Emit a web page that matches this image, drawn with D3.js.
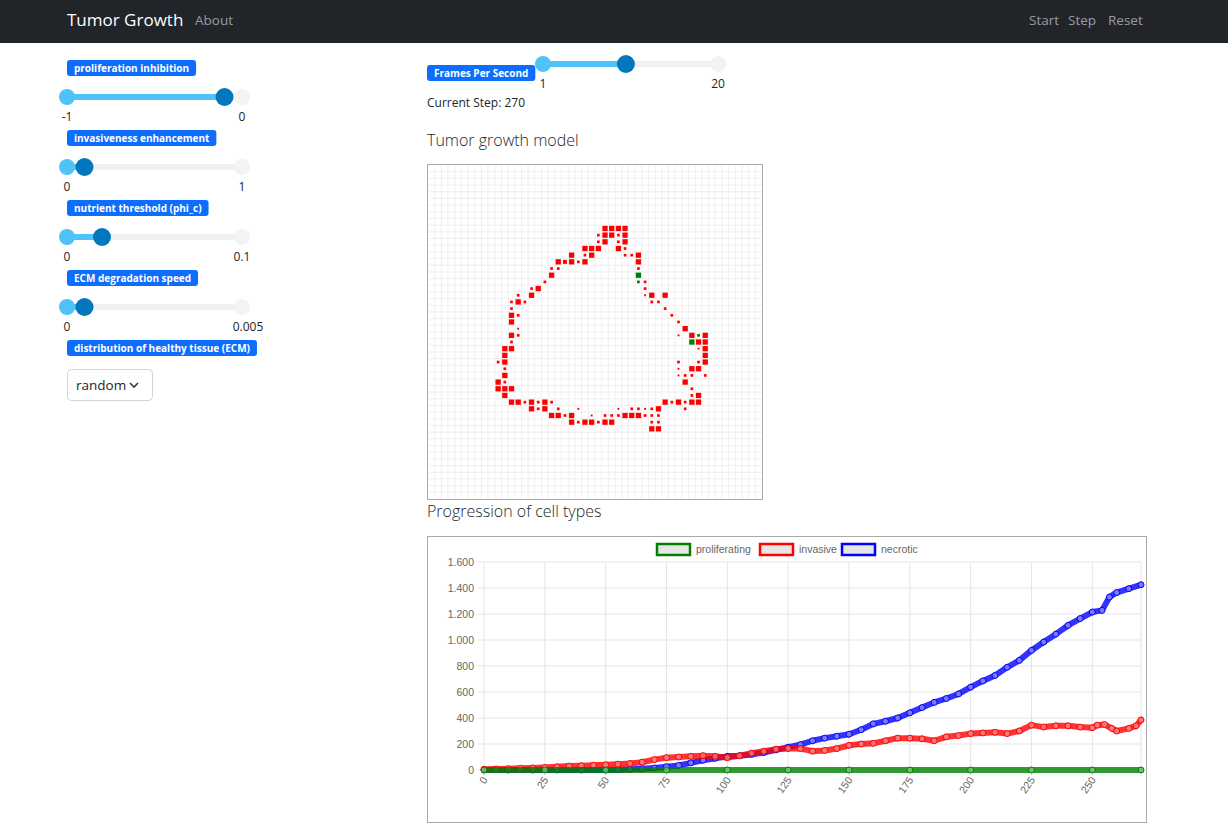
<!DOCTYPE html>
<html><head><meta charset="utf-8">
<script src="https://cdn.jsdelivr.net/npm/d3@7"></script>
<style>body{margin:0;background:#fff;font-family:"Open Sans","Noto Sans",sans-serif}</style>
</head><body><svg id="s" width="1228" height="826"></svg>
<script>
// ---------- data ----------
const navLeft = ["Tumor Growth", "About"];
const navRight = ["Start", "Step", "Reset"];
const sliderLabels = ["proliferation inhibition", "invasiveness enhancement", "nutrient threshold (phi_c)", "ECM degradation speed"];
const sliderMin = [-1, 0, 0, 0];
const sliderMax = [0, 1, 0.1, 0.005];
const sliderVal = [-0.1, 0.1, 0.02, 0.0005];
const fpsRange = [1, 20], fpsVal = 10;
const currentStep = 270;
// tumor cells: [col,row,sizeClass] sizeClass 3=large 2=medium 1=small 0=tiny
const invasiveCells = [
[26,9,3],[27,9,3],[28,9,3],[29,9,3],
[25,10,1],[26,10,3],[27,10,3],[28,10,1],[29,10,3],
[25,11,1],[26,11,3],[28,11,1],[29,11,3],
[23,12,3],[24,12,3],[25,12,3],[28,12,3],[29,12,1],
[21,13,3],[23,13,1],[24,13,3],[29,13,1],[30,13,1],[31,13,3],
[19,14,3],[20,14,2],[21,14,3],[22,14,1],[23,14,3],[31,14,3],
[18,15,1],[19,15,1],[31,15,1],
[18,16,3],
[17,17,1],[32,17,1],
[15,18,1],[16,18,3],[32,18,1],
[13,19,1],[15,19,3],[32,19,0],[33,19,3],[35,19,3],
[12,20,1],[13,20,3],[14,20,1],[33,20,1],[34,20,1],
[12,21,1],[35,21,1],
[12,22,3],[13,22,1],[36,22,1],
[12,23,3],[37,23,1],
[13,24,0],[38,24,3],
[12,25,3],[13,25,1],[37,25,0],[39,25,3],[41,25,3],
[12,26,1],[40,26,3],[41,26,3],
[11,27,3],[12,27,3],[40,27,0],[41,27,3],
[11,28,3],[41,28,3],
[10,29,1],[11,29,3],[37,29,1],[40,29,1],[41,29,3],
[11,30,1],[37,30,0],[39,30,3],[40,30,3],
[11,31,3],[37,31,0],[38,31,1],[39,31,1],[41,31,1],
[10,32,3],[11,32,1],[38,32,3],
[10,33,3],[11,33,3],[12,33,3],[39,33,1],
[11,34,3],[39,34,1],[40,34,3],
[12,35,3],[13,35,3],[14,35,1],[15,35,3],[16,35,1],[17,35,3],[18,35,1],[35,35,3],[36,35,1],[37,35,3],[38,35,1],[39,35,3],[40,35,3],
[15,36,3],[16,36,1],[17,36,3],[19,36,1],[22,36,0],[28,36,0],[30,36,1],[31,36,1],[32,36,0],[33,36,1],[34,36,3],[38,36,1],
[18,37,3],[19,37,3],[20,37,1],[21,37,3],[24,37,0],[26,37,1],[27,37,1],[28,37,1],[29,37,3],[30,37,3],[31,37,3],[32,37,1],[33,37,1],[34,37,1],
[21,38,3],[22,38,1],[23,38,3],[24,38,3],[25,38,1],[26,38,3],[27,38,3],[33,38,1],[34,38,1],
[33,39,3],[34,39,3]
];
const proliferatingCells = [[31,16,3],[31,17,1],[40,25,1],[39,26,3]];
const gridSize = 50;
// chart series [step, count]
const necrotic = [[0,0],[10,0],[20,0],[30,0],[40,0],[50,0],[55,2],[60,5],[65,10],[70,15],[75,25],[80,35],[85,55],[90,75],[95,90],[100,105],[105,110],[110,120],[115,135],[120,155],[125,175],[130,195],[135,225],[140,245],[145,260],[150,275],[155,310],[160,355],[165,375],[170,400],[175,440],[180,480],[185,520],[190,550],[195,585],[200,637],[205,685],[210,727],[215,790],[220,843],[225,920],[230,984],[235,1045],[240,1112],[245,1165],[250,1215],[254,1228],[257,1330],[260,1365],[265,1395],[270,1425]];
const invasive = [[0,5],[5,8],[10,10],[15,13],[20,16],[25,20],[30,25],[35,30],[40,33],[45,37],[50,40],[55,45],[60,50],[65,60],[70,80],[75,95],[80,100],[85,105],[90,110],[95,105],[100,95],[105,110],[110,130],[115,145],[120,160],[125,165],[130,165],[135,145],[140,150],[145,165],[150,190],[155,200],[160,205],[165,225],[170,245],[175,245],[180,240],[185,225],[190,255],[195,265],[200,280],[205,285],[210,290],[215,280],[220,300],[225,345],[230,330],[235,340],[240,340],[245,330],[250,325],[252,345],[255,350],[258,320],[260,300],[265,320],[268,340],[270,385]];
const proliferating = [[0,0],[25,0],[50,0],[75,0],[100,0],[125,0],[150,0],[175,0],[200,0],[225,0],[250,0],[270,0]];
const legendNames = ["proliferating","invasive","necrotic"];
const legendColors = ["green","red","blue"];
const yTicks = [0,200,400,600,800,1000,1200,1400,1600];
const xTicks = [0,25,50,75,100,125,150,175,200,225,250];

// ---------- drawing ----------
const svg = d3.select("#s");
const F = '"Open Sans","Noto Sans",sans-serif';
// navbar
svg.append("rect").attr("width",1228).attr("height",43).attr("fill","#212529");
svg.append("text").attr("x",67).attr("y",26).attr("fill","#fff").attr("font-size",17).text(navLeft[0]);
svg.append("text").attr("x",195).attr("y",25).attr("fill","rgba(255,255,255,0.55)").attr("font-size",13.5).text(navLeft[1]);
const nx = [1029,1068,1108];
navRight.forEach((t,i)=>svg.append("text").attr("x",nx[i]).attr("y",25).attr("fill","rgba(255,255,255,0.55)").attr("font-size",13.5).text(t));

function badge(x,y,t,fs){
  const g = svg.append("g");
  const tx = g.append("text").attr("x",x+7).attr("y",y+11.5).attr("fill","#fff").attr("font-size",fs||10).attr("font-weight",700).text(t);
  const w = tx.node().getComputedTextLength()+14;
  g.insert("rect","text").attr("x",x).attr("y",y).attr("width",w).attr("height",16).attr("rx",3).attr("fill","#0d6efd");
}
function slider(x0,x1,y,dom,val,lab0,lab1,labY,rx){
  const sc = d3.scaleLinear().domain(dom).range([x0,x1]);
  const vx = sc(val);
  svg.append("line").attr("x1",x0).attr("x2",x1).attr("y1",y).attr("y2",y).attr("stroke","#f0f0f0").attr("stroke-width",6).attr("stroke-linecap","round");
  svg.append("circle").attr("cx",x1).attr("cy",y).attr("r",8).attr("fill","#f3f3f3");
  svg.append("line").attr("x1",x0).attr("x2",vx).attr("y1",y).attr("y2",y).attr("stroke","#4fc3f7").attr("stroke-width",6);
  svg.append("circle").attr("cx",x0).attr("cy",y).attr("r",8).attr("fill","#4fc3f7");
  svg.append("circle").attr("cx",vx).attr("cy",y).attr("r",9).attr("fill","#0277bd");
  svg.append("text").attr("x",x0).attr("y",labY).attr("text-anchor","middle").attr("font-size",12).attr("fill","#212529").text(lab0);
  svg.append("text").attr("x",rx||x1).attr("y",labY).attr("text-anchor","middle").attr("font-size",12).attr("fill","#212529").text(lab1);
}
sliderLabels.forEach((t,i)=>{
  const by = 60+i*70;
  badge(67,by,t);
  slider(67,242,97+i*70,[sliderMin[i],sliderMax[i]],sliderVal[i],String(sliderMin[i]),String(sliderMax[i]),121+i*70,i==3?248:242);
});
badge(67,340,"distribution of healthy tissue (ECM)");
svg.append("rect").attr("x",67.5).attr("y",369.5).attr("width",85).attr("height",31).attr("rx",4).attr("fill","#fff").attr("stroke","#ced4da");
svg.append("text").attr("x",76).attr("y",390).attr("font-size",13.5).attr("fill","#212529").text("random");
svg.append("path").attr("d","M130,383 l4,4 l4,-4").attr("fill","none").attr("stroke","#343a40").attr("stroke-width",1.6);

// fps
badge(427,65,"Frames Per Second");
slider(543,718,64,fpsRange,fpsVal,"1","20",88);
svg.append("text").attr("x",427).attr("y",107).attr("font-size",12).attr("fill","#212529").text("Current Step: "+currentStep);
svg.append("text").attr("x",427).attr("y",146).attr("font-size",16).attr("font-weight",300).attr("fill","#212529").text("Tumor growth model");

// grid
const gx = d3.scaleLinear().domain([0,gridSize]).range([428,762]);
const gy = d3.scaleLinear().domain([0,gridSize]).range([165,499]);
const gg = svg.append("g");
d3.range(1,gridSize).forEach(i=>{
  gg.append("line").attr("x1",gx(i)).attr("x2",gx(i)).attr("y1",165).attr("y2",499).attr("stroke","#ececec").attr("stroke-width",0.8);
  gg.append("line").attr("y1",gy(i)).attr("y2",gy(i)).attr("x1",428).attr("x2",762).attr("stroke","#ececec").attr("stroke-width",0.8);
});
const sz = [1.9,2.7,4,5.3];
const cw = gx(1)-gx(0);
function cells(data,col){
  gg.selectAll(null).data(data).enter().append("rect")
   .attr("x",d=>gx(d[0])+(cw-sz[d[2]])/2).attr("y",d=>gy(d[1])+(cw-sz[d[2]])/2)
   .attr("width",d=>sz[d[2]]).attr("height",d=>sz[d[2]]).attr("fill",col);
}
cells(invasiveCells,"#ff0000");
cells(proliferatingCells,"#008000");
svg.append("rect").attr("x",427.5).attr("y",164.5).attr("width",335).attr("height",335).attr("fill","none").attr("stroke","#555").attr("stroke-dasharray","1,1");

svg.append("text").attr("x",427).attr("y",517).attr("font-size",16).attr("font-weight",300).attr("fill","#212529").text("Progression of cell types");

// chart
svg.append("rect").attr("x",427.5).attr("y",536.5).attr("width",719).attr("height",286).attr("fill","none").attr("stroke","#555").attr("stroke-dasharray","1,1");
const x = d3.scaleLinear().domain([0,270]).range([484,1141]);
const y = d3.scaleLinear().domain([0,1600]).range([770,562]);
const cg = svg.append("g");
yTicks.forEach(t=>{
  cg.append("line").attr("x1",478).attr("x2",1141).attr("y1",y(t)).attr("y2",y(t)).attr("stroke","#e5e5e5");
  cg.append("text").attr("x",474).attr("y",y(t)+4).attr("text-anchor","end").attr("font-size",10.5).attr("fill","#666").attr("font-family","Liberation Sans, Arial")
    .text(d3.format(",")(t).replace(/,/g,"."));
});
xTicks.forEach(t=>{
  cg.append("line").attr("x1",x(t)).attr("x2",x(t)).attr("y1",562).attr("y2",776).attr("stroke","#e5e5e5");
  cg.append("text").attr("transform",`translate(${x(t)+4},${780}) rotate(-55)`).attr("text-anchor","end").attr("font-size",10.5).attr("fill","#666").attr("font-family","Liberation Sans, Arial").text(t);
});
cg.append("line").attr("x1",x(270)).attr("x2",x(270)).attr("y1",562).attr("y2",776).attr("stroke","#e5e5e5");
const line = d3.line().x(d=>x(d[0])).y(d=>y(d[1]));
function series(data,col){
  cg.append("path").datum(data).attr("d",line).attr("fill","none").attr("stroke",col).attr("stroke-opacity",0.8).attr("stroke-width",6).attr("stroke-linejoin","round").attr("stroke-linecap","round");
  cg.selectAll(null).data(data).enter().append("circle").attr("cx",d=>x(d[0])).attr("cy",d=>y(d[1])).attr("r",3).attr("fill","rgba(230,230,230,0.4)").attr("stroke",col).attr("stroke-width",1);
}
series(necrotic,"blue");
series(invasive,"red");
series(proliferating,"green");
// legend
const lx = [657,760,842];
legendNames.forEach((n,i)=>{
  svg.append("rect").attr("x",lx[i]).attr("y",544).attr("width",33).attr("height",11).attr("fill","#e6e6e6").attr("stroke",legendColors[i]).attr("stroke-width",2.5);
  svg.append("text").attr("x",lx[i]+39).attr("y",553).attr("font-size",10.5).attr("fill","#666").attr("font-family","Liberation Sans, Arial").text(n);
});
</script></body></html>
